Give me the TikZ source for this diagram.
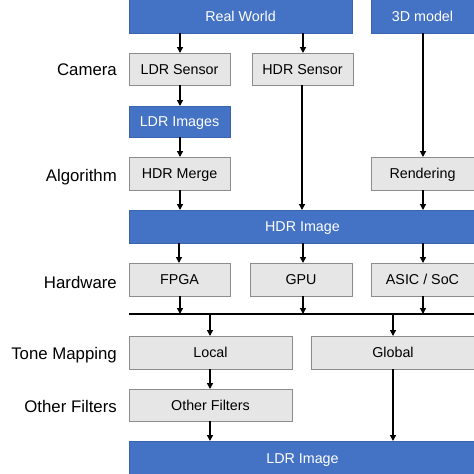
\documentclass[tikz,border=0pt]{standalone}
\usepackage{fontspec}
\setmainfont{Liberation Sans}
\usetikzlibrary{arrows.meta}
\definecolor{boxblue}{HTML}{4472C4}
\definecolor{blueedge}{HTML}{3A64AE}
\definecolor{boxgray}{HTML}{E6E6E6}
\definecolor{grayedge}{HTML}{8C8C8C}
\begin{document}
\begin{tikzpicture}[x=1pt,y=-1pt,
  bluebox/.style={draw=blueedge,fill=boxblue,line width=1pt},
  graybox/.style={draw=grayedge,fill=boxgray,line width=1pt},
  btxt/.style={font=\fontsize{14.3}{16}\selectfont,text height=1.55ex,text depth=0.25ex,inner sep=0pt,yshift=-1.8pt},
  wtxt/.style={btxt,text=white},
  lbl/.style={anchor=east,font=\fontsize{16.8}{19}\selectfont,text height=1.55ex,text depth=0.25ex,inner sep=0pt,yshift=-1.8pt},
  arr/.style={-{Triangle[length=6pt,width=6pt]},line width=1.3pt}]
\useasboundingbox (0,0) rectangle (474,474);
% boxes
\path[bluebox] (129,-2) rectangle (352,33); \node[wtxt] (rw) at (240.5,16) {Real World};
\path[bluebox] (371,-2) rectangle (476,33); \node[wtxt] (tdm) at (422.5,16) {3D model};
\path[graybox] (129,53) rectangle (230,85); \node[btxt] (ldrs) at (179.5,69) {LDR Sensor};
\path[graybox] (252,53) rectangle (353,85); \node[btxt] (hdrs) at (302.5,69) {HDR Sensor};
\path[bluebox] (129,106) rectangle (230,137); \node[wtxt] (ldri) at (179.5,121.5) {LDR Images};
\path[graybox] (129,157) rectangle (230,190); \node[btxt] (merge) at (179.5,173.5) {HDR Merge};
\path[graybox] (371,157) rectangle (476,190); \node[btxt] (rend) at (422.5,173.5) {Rendering};
\path[bluebox] (129,210) rectangle (476,243); \node[wtxt] (hdri) at (302.5,226.5) {HDR Image};
\path[graybox] (129,263) rectangle (230,296); \node[btxt] (fpga) at (179.5,279.5) {FPGA};
\path[graybox] (250,263) rectangle (352,296); \node[btxt] (gpu) at (301,279.5) {GPU};
\path[graybox] (371,263) rectangle (476,296); \node[btxt] (asic) at (422.5,279.5) {ASIC / SoC};
\path[graybox] (129,336) rectangle (292,369); \node[btxt] (local) at (210.5,352.5) {Local};
\path[graybox] (311,336) rectangle (476,369); \node[btxt] (global) at (393,352.5) {Global};
\path[graybox] (129,389) rectangle (292,421); \node[btxt] (of) at (210.5,405) {Other Filters};
\path[bluebox] (129,441) rectangle (476,476); \node[wtxt] (ldr) at (302.5,458) {LDR Image};
% side labels
\node[lbl] (lc) at (117,70) {Camera};
\node[lbl] (la) at (117,176) {Algorithm};
\node[lbl] (lh) at (117,283) {Hardware};
\node[lbl] (lt) at (117,354) {Tone Mapping};
\node[lbl] (lo) at (117,407) {Other Filters};
% bus
\coordinate (busl) at (129,314);
\coordinate (busr) at (474,314);
\draw[line width=2.6pt] (busl) -- (busr);
% arrows
\draw[arr] (180,33) -- (180,53);
\draw[arr] (303,33) -- (303,53);
\draw[arr] (423,33) -- (423,157);
\draw[arr] (180,85) -- (180,106);
\draw[arr] (180,137) -- (180,157);
\draw[arr] (302,85) -- (302,210);
\draw[arr] (180,190) -- (180,210);
\draw[arr] (423,190) -- (423,210);
\draw[arr] (179,243) -- (179,263);
\draw[arr] (303,243) -- (303,263);
\draw[arr] (423,243) -- (423,263);
\draw[arr] (180,296) -- (180,314);
\draw[arr] (303,296) -- (303,314);
\draw[arr] (423,296) -- (423,314);
\draw[arr] (210,314) -- (210,336);
\draw[arr] (393,314) -- (393,336);
\draw[arr] (210,369) -- (210,389);
\draw[arr] (210,421) -- (210,441);
\draw[arr] (393,369) -- (393,441);
\end{tikzpicture}
\end{document}
